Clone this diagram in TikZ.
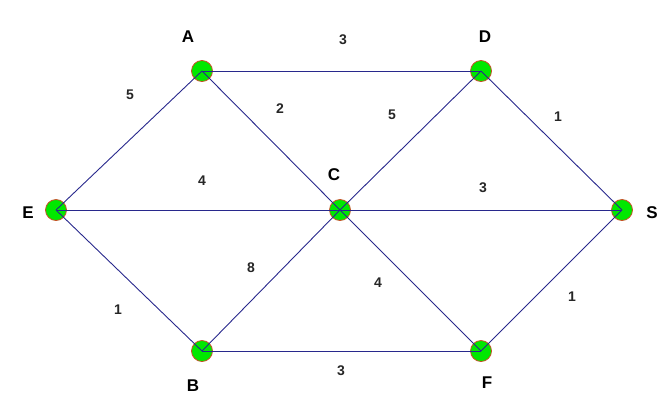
\documentclass[tikz,border=0pt]{standalone}
\usepackage{fontspec}
\setmainfont{Liberation Sans}
\begin{document}
\begin{tikzpicture}[x=1pt,y=-1pt,
  vtx/.style={circle,fill=green!85!black!60!green,draw={rgb,255:red,200;green,80;blue,40},line width=0.8pt,minimum size=21pt,inner sep=0pt},
  edge/.style={draw={rgb,255:red,40;green,40;blue,140},line width=0.9pt},
  vlab/.style={font=\bfseries\fontsize{17}{17}\selectfont},
  elab/.style={font=\bfseries\fontsize{14}{14}\selectfont,text=black!85}]
\useasboundingbox (0,0) rectangle (668,405);
\node[vtx] (A) at (202,71) {};
\node[vtx] (D) at (481,71) {};
\node[vtx] (E) at (56,210) {};
\node[vtx] (C) at (340,210) {};
\node[vtx] (S) at (622,210) {};
\node[vtx] (B) at (202,351) {};
\node[vtx] (F) at (481,351) {};
\foreach \a/\b in {A/D,A/E,A/C,D/C,D/S,E/C,C/S,E/B,B/C,C/F,F/S,B/F}
  \draw[edge] (\a.center) -- (\b.center);
\node[vlab] (lA) at (188,37) {A};
\node[vlab] (lD) at (485,37) {D};
\node[vlab] (lE) at (28,213) {E};
\node[vlab] (lC) at (334,175) {C};
\node[vlab] (lS) at (652,213) {S};
\node[vlab] (lB) at (193,386) {B};
\node[vlab] (lF) at (487,383) {F};
\node[elab] (e1) at (343,40) {3};
\node[elab] (e2) at (130,95) {5};
\node[elab] (e3) at (280,109) {2};
\node[elab] (e4) at (392,115) {5};
\node[elab] (e5) at (558,117) {1};
\node[elab] (e6) at (202,181) {4};
\node[elab] (e7) at (483,188) {3};
\node[elab] (e8) at (251,268) {8};
\node[elab] (e9) at (378,283) {4};
\node[elab] (e10) at (118,310) {1};
\node[elab] (e11) at (572,297) {1};
\node[elab] (e12) at (341,371) {3};
\end{tikzpicture}
\end{document}
